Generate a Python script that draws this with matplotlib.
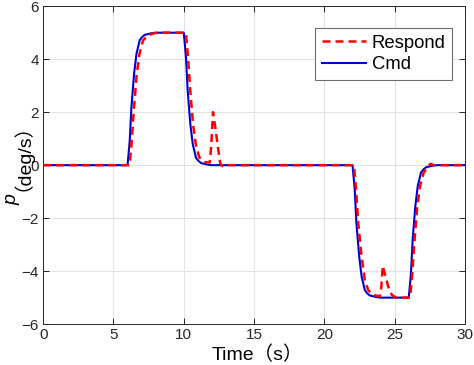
import matplotlib
matplotlib.use('Agg')
import matplotlib.pyplot as plt

plt.rcParams['font.family'] = ['Liberation Sans', 'Noto Sans CJK SC', 'DejaVu Sans']

# Cmd signal (time s, rate deg/s)
cmd_t = [0, 6.0, 6.08, 6.16, 6.28, 6.47, 6.64, 6.87, 7.05, 7.23, 7.7, 8.0,
         10.0, 10.08, 10.16, 10.28, 10.47, 10.64, 10.87, 11.05, 11.23, 11.7, 12.0,
         22.0, 22.08, 22.16, 22.28, 22.48, 22.65, 22.88, 23.05, 23.24, 23.71, 24.0,
         26.0, 26.08, 26.16, 26.28, 26.47, 26.64, 26.87, 27.05, 27.23, 27.7, 28.0, 30]
cmd_v = [0, 0, 0.45, 0.94, 2.2, 3.46, 4.21, 4.72, 4.84, 4.92, 4.98, 5,
         5, 4.55, 4.06, 2.8, 1.54, 0.79, 0.28, 0.16, 0.08, 0.02, 0,
         0, -0.45, -0.94, -2.2, -3.46, -4.21, -4.72, -4.84, -4.92, -4.98, -5,
         -5, -4.55, -4.06, -2.8, -1.54, -0.79, -0.28, -0.16, -0.08, -0.02, 0, 0]

# Respond signal
resp_t = [0, 6.15, 6.3, 6.45, 6.65, 6.85, 7.1, 7.45, 7.9, 8.2,
          10.15, 10.3, 10.45, 10.65, 10.85, 11.1, 11.45, 11.85, 11.95, 12.08,
          12.25, 12.45, 12.6, 12.8, 13.2,
          22.1, 22.25, 22.41, 22.65, 22.88, 23.12, 23.45, 23.95, 24.05, 24.15,
          24.35, 24.55, 24.8, 25.1, 26.1, 26.25, 26.4, 26.6, 26.8, 27.05,
          27.35, 27.55, 27.8, 30]
resp_v = [0, 0, 0.9, 2.1, 3.4, 4.2, 4.7, 4.9, 4.98, 5,
          5, 4.1, 2.9, 1.6, 0.8, 0.3, 0.12, 0.1, 0.7, 2.0,
          1.4, 0.6, 0.05, -0.06, 0,
          0, -0.9, -2.2, -3.46, -4.34, -4.72, -4.9, -4.95, -4.6, -3.8,
          -4.2, -4.6, -4.9, -5.0, -5.0, -4.1, -2.9, -1.6, -0.8, -0.3,
          -0.05, 0.05, 0, 0]

x_ticks = [0, 5, 10, 15, 20, 25, 30]
y_ticks = [-6, -4, -2, 0, 2, 4, 6]

fig = plt.figure(figsize=(4.74, 3.65), dpi=100)
ax = fig.add_axes([0.091, 0.112, 0.89, 0.871])

ax.plot(resp_t, resp_v, color='#ff0000', lw=1.8, dashes=(3.2, 2.0), label='Respond', zorder=3)
ax.plot(cmd_t, cmd_v, color='#0000cc', lw=1.5, label='Cmd', zorder=2)

ax.set_xlim(0, 30)
ax.set_ylim(-6, 6)
ax.set_xticks(x_ticks)
ax.set_yticks(y_ticks)
ax.set_yticklabels(['\u22126', '\u22124', '\u22122', '0', '2', '4', '6'])
ax.grid(True, color='#e3e3e3', lw=0.7)
ax.set_axisbelow(True)
ax.tick_params(direction='in', length=4, width=0.7, colors='#262626',
               labelsize=11, top=True, right=True, pad=3)
for s in ax.spines.values():
    s.set_color('#262626')
    s.set_linewidth(0.7)

ax.set_xlabel('Time\uff08s\uff09', fontsize=14)
ax.xaxis.set_label_coords(0.508, -0.068)
# y label: italic p followed by the unit, as two rotated texts
fig.text(0.026, 0.452, 'p', rotation=90, style='italic', fontsize=14,
         ha='center', va='center')
fig.text(0.026, 0.595, '\uff08deg/s\uff09', rotation=90, fontsize=14,
         ha='center', va='center')

leg = ax.legend(loc='upper right', bbox_to_anchor=(0.969, 0.931), fontsize=13.3,
                handlelength=2.4, handletextpad=0.3, borderpad=0.35,
                labelspacing=0.25, borderaxespad=0, fancybox=False, framealpha=1)
leg.get_frame().set_edgecolor('#6e6e6e')
leg.get_frame().set_linewidth(0.8)

fig.savefig('out.png', dpi=100)
